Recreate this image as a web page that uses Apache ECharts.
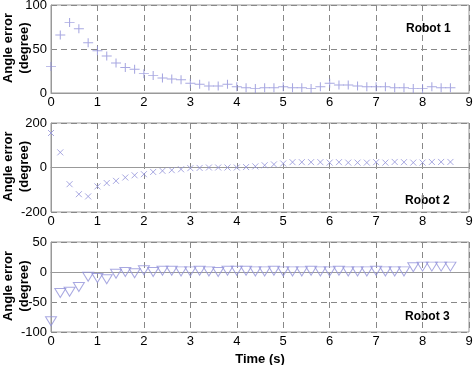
<!DOCTYPE html>
<html><head><meta charset="utf-8">
<script src="https://cdn.jsdelivr.net/npm/echarts@6/dist/echarts.min.js"></script>
<style>html,body{margin:0;padding:0;background:#fff}#c{width:474px;height:365px}</style>
</head><body><div id="c"></div>
<script>
const times = [0,0.2,0.4,0.6,0.8,1.0,1.2,1.4,1.6,1.8,2.0,2.2,2.4,2.6,2.8,3.0,3.2,3.4,3.6,3.8,4.0,4.2,4.4,4.6,4.8,5.0,5.2,5.4,5.6,5.8,6.0,6.2,6.4,6.6,6.8,7.0,7.2,7.4,7.6,7.8,8.0,8.2,8.4,8.6];
const robot1 = [30,66,80,73,57,48,42,34,29,27,22,20,17,16,15,11,10,8,8,10,7,6,5,6,6,7,6,6,5,7,11,9,9,8,7,7,7,6,6,5,5,7,6,6];
const robot2 = [155,68,-75,-120,-130,-85,-70,-60,-45,-35,-30,-20,-15,-12,-8,-3,-2,0,0,0,0,2,5,10,14,18,24,24,24,24,22,24,22,22,22,24,22,25,24,22,22,25,25,25];
const robot3 = [-82,-35,-33,-25,-8,-10,-12,-3,0,-2,3,0,2,2,1,1,2,1,0,2,2,2,1,1,2,1,1,1,2,1,1,2,1,1,1,2,1,1,1,8,9,9,9,9];
const xTicks = [0,1,2,3,4,5,6,7,8,9];
const yTicks1 = [0,50,100];
const yTicks2 = [-200,0,200];
const yTicks3 = [-100,-50,0,50];
const robotNames = ['Robot 1','Robot 2','Robot 3'];
const xName = 'Time (s)';
const yName = 'Angle error\n(degree)';

const mk = '#9292da';
const grids = [
  {left:51, right:5, top:5, height:88},
  {left:51, right:5, top:123, height:89},
  {left:51, right:5, top:242, height:90}
];
const yT = [yTicks1, yTicks2, yTicks3];
const font = 'Liberation Sans, Arial, sans-serif';
const chart = echarts.init(document.getElementById('c'), null, {renderer:'canvas'});
const xAxes = grids.map((g,i)=>({
  type:'value', gridIndex:i, min:xTicks[0], max:xTicks[xTicks.length-1], interval:1,
  axisLine:{show:true, lineStyle:{color:'#999', width:1}},
  axisTick:{show:false},
  axisLabel:{color:'#000', fontSize:13, fontFamily:font, margin:3},
  splitLine:{show:true, lineStyle:{color:'#888', type:[6,4], width:1}},
  name: i===2 ? xName : '', nameLocation:'middle', nameGap:21,
  nameTextStyle:{color:'#000', fontSize:13, fontWeight:'bold', fontFamily:font}
}));
const yAxes = grids.map((g,i)=>({
  type:'value', gridIndex:i, min:yT[i][0], max:yT[i][yT[i].length-1],
  interval: yT[i][1]-yT[i][0],
  axisLine:{show:true, lineStyle:{color:'#999', width:1}},
  axisTick:{show:false},
  axisLabel:{color:'#000', fontSize:13, fontFamily:font, margin:4},
  splitLine:{show:true, lineStyle:{color:'#888', type:[6,4], width:1}}
}));
const plusPath = 'path://M5,0 L5,10 M0,5 L10,5';
const xPath = 'path://M0,0 L10,10 M10,0 L0,10';
const triPath = 'path://M0,0 L10,0 L5,8 Z';
const series = [
  {type:'scatter', xAxisIndex:0, yAxisIndex:0, data:times.map((t,k)=>[t,robot1[k]]),
   symbol:plusPath, symbolSize:[10,9], itemStyle:{color:'transparent', borderColor:mk, borderWidth:1}},
  {type:'scatter', xAxisIndex:1, yAxisIndex:1, data:times.map((t,k)=>[t,robot2[k]]),
   symbol:xPath, symbolSize:[6,6], itemStyle:{color:'transparent', borderColor:mk, borderWidth:1}},
  {type:'scatter', xAxisIndex:2, yAxisIndex:2, data:times.map((t,k)=>[t,robot3[k]]),
   symbol:triPath, symbolSize:[11,9], itemStyle:{color:'transparent', borderColor:mk, borderWidth:1}}
];
const yNameGraphics = grids.map(g=>({
  type:'text', x:16, y:g.top + g.height/2 - 1, rotation:Math.PI/2,
  style:{text:yName, fill:'#000', font:'bold 13px '+font, align:'center', verticalAlign:'middle', lineHeight:16}
}));
chart.setOption({
  animation:false,
  backgroundColor:'#fff',
  grid: grids.map(g=>Object.assign({show:true, containLabel:false, outerBoundsMode:'none', borderColor:'#999', borderWidth:1, backgroundColor:'transparent'}, g)),
  xAxis:xAxes, yAxis:yAxes, series:series,
  graphic:[
    {type:'text', left:406, top:23, style:{text:robotNames[0], fill:'#000', font:'bold 12px '+font}},
    {type:'text', left:405, top:195, style:{text:robotNames[1], fill:'#000', font:'bold 12px '+font}},
    {type:'text', left:405, top:311, style:{text:robotNames[2], fill:'#000', font:'bold 12px '+font}}
  ].concat(yNameGraphics)
});
</script></body></html>
